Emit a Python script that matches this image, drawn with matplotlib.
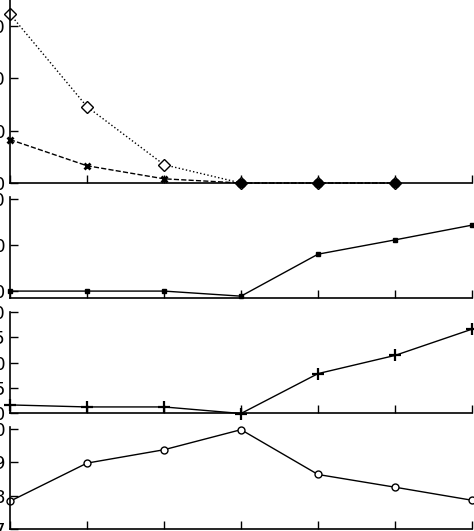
import matplotlib
matplotlib.use("Agg")
import matplotlib.pyplot as plt

x = [0, 1, 2, 3, 4, 5, 6]
x_top = [0, 1, 2, 3, 4, 5]
s_diamond = [32.3, 14.6, 3.5, 0, 0, 0]
s_cross = [8.3, 3.3, 0.8, 0, 0, 0]
s_square = [0, 0, 0, -1.1, 8.0, 11.1, 14.3]
s_plus = [1.6, 1.2, 1.2, -0.1, 7.8, 11.4, 16.6]
s_circle = [7.83, 8.97, 9.37, 9.97, 8.63, 8.25, 7.86]

fig = plt.figure(figsize=(4.74, 5.31), dpi=100)
L, W = 10/474, 462/474
boxes = [(1-183/531, 183/531), (1-298/531, 101/531), (1-413/531, 101/531), (1-529/531, 102/531)]
axes = [fig.add_axes([L, b, W, h]) for b, h in boxes]

for ax in axes:
    ax.spines['top'].set_visible(False)
    ax.spines['right'].set_visible(False)
    for s in ('left', 'bottom'):
        ax.spines[s].set_linewidth(1.2)
    ax.set_xlim(0, 6)
    ax.set_xticks(x)
    ax.set_xticklabels([])
    ax.tick_params(direction='in', length=6, width=1.0, labelsize=13)
    ax.set_facecolor('none')

a = axes[0]
a.plot(x_top, s_diamond, ':', color='k', lw=1, marker='D', mfc='white', mec='k', ms=6, clip_on=False)
a.plot(x_top, s_cross, '--', color='k', lw=1, marker='x', mec='k', ms=5, mew=2, clip_on=False)
a.plot(x_top[3:], [0, 0, 0], 'o', color='k', ms=6, clip_on=False)
a.set_ylim(0, 35)
a.set_yticks([0, 10, 20, 30])

a = axes[1]
a.plot(x, s_square, '-', color='k', lw=1, marker='s', ms=3, clip_on=False)
a.set_ylim(-1.5, 20.4)
a.set_yticks([0, 10, 20])

a = axes[2]
a.plot(x, s_plus, '-', color='k', lw=1, marker='+', ms=9, mew=1.6, clip_on=False)
a.set_ylim(0, 20)
a.set_yticks([0, 5, 10, 15, 20])

a = axes[3]
a.plot(x, s_circle, '-', color='k', lw=1, marker='o', mfc='white', mec='k', ms=5, clip_on=False)
a.set_ylim(7, 10.05)
a.set_yticks([7, 8, 9, 10])

fig.savefig("out.png", dpi=100)
